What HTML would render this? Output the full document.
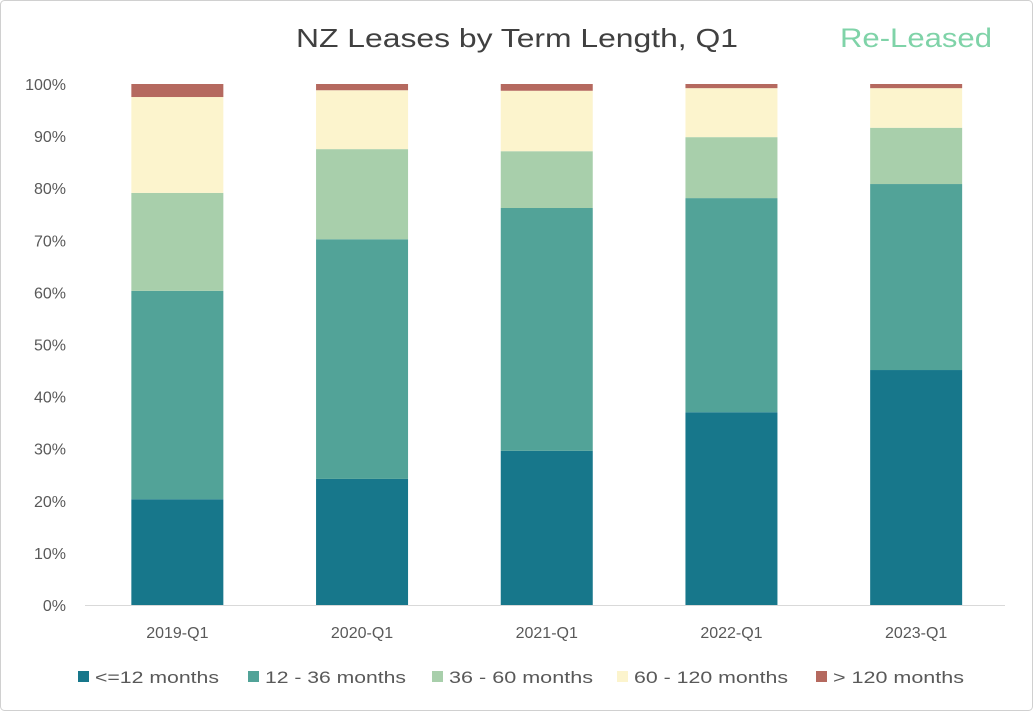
<!DOCTYPE html>
<html><head><meta charset="utf-8"><style>
body{margin:0;background:#fff;font-family:"Liberation Sans",sans-serif;}
svg text{font-family:"Liberation Sans",sans-serif;}
</style></head><body>
<svg id="c" width="1034" height="712">
<rect x="0.5" y="0.5" width="1032" height="710" rx="4" fill="#fff" stroke="#d0d0d0"/>
<text x="517" y="47" text-anchor="middle" font-size="26" textLength="442" lengthAdjust="spacingAndGlyphs" fill="#404040">NZ Leases by Term Length, Q1</text>
<text x="992" y="47" text-anchor="end" font-size="27" textLength="152" lengthAdjust="spacingAndGlyphs" fill="#7fd3a8">Re-Leased</text>
<g id="axes"></g><g id="bars"></g><g id="legend"></g>
</svg>
<script>
const categories=["2019-Q1","2020-Q1","2021-Q1","2022-Q1","2023-Q1"];
const seriesNames=["<=12 months","12 - 36 months","36  - 60 months","60 - 120 months","> 120 months"];
const s1=[20.3,24.2,29.6,37.0,45.1];
const s2=[40.0,46.0,46.6,41.1,35.7];
const s3=[18.8,17.3,10.9,11.7,10.8];
const s4=[18.4,11.3,11.6,9.4,7.6];
const s5=[2.5,1.2,1.3,0.8,0.8];
const yTicks=[0,10,20,30,40,50,60,70,80,90,100];
const colors=["#17778b","#52a398","#a8cfab","#fcf4cd","#b5695f"];
const series=[s1,s2,s3,s4,s5];
const NS="http://www.w3.org/2000/svg";
const y0=605,y1=84,xL=85,xR=1008.5;
const y=v=>y0-(v/100)*(y0-y1);
const band=(xR-xL)/categories.length;
const x=i=>xL+band*i+band/2;
const bw=92;
function mk(t,a,p){const e=document.createElementNS(NS,t);for(const k in a)e.setAttribute(k,a[k]);p.appendChild(e);return e;}
const ax=document.getElementById('axes');
yTicks.forEach(t=>{const e=mk('text',{x:66,y:y(t)+6,'text-anchor':'end','font-size':16,fill:'#595959'},ax);e.textContent=t+'%';

});
const al=mk('line',{x1:xL,x2:1005,y1:y0+0.5,y2:y0+0.5,stroke:'#d9d9d9','stroke-width':1},ax);


categories.forEach((c,i)=>{const e=mk('text',{x:x(i),y:638,'text-anchor':'middle','font-size':16,fill:'#595959'},ax);e.textContent=c;

});
const bg=document.getElementById('bars');
categories.forEach((c,i)=>{let acc=0;series.forEach((s,k)=>{const v=s[i];const r=mk('rect',{x:x(i)-bw/2,y:y(acc+v),width:bw,height:y(acc)-y(acc+v),fill:colors[k]},bg);

acc+=v;});});
const lg=document.getElementById('legend');
const lx=[78,248,432,617,816];
const lw=[124,141,144,154,131];
seriesNames.forEach((n,k)=>{const r=mk('rect',{x:lx[k],y:671,width:11,height:11,fill:colors[k]},lg);


const t=mk('text',{x:lx[k]+17,y:683,'font-size':17,fill:'#595959',textLength:lw[k],lengthAdjust:'spacingAndGlyphs','xml:space':'preserve'},lg);t.textContent=n;

});
</script>
</body></html>
